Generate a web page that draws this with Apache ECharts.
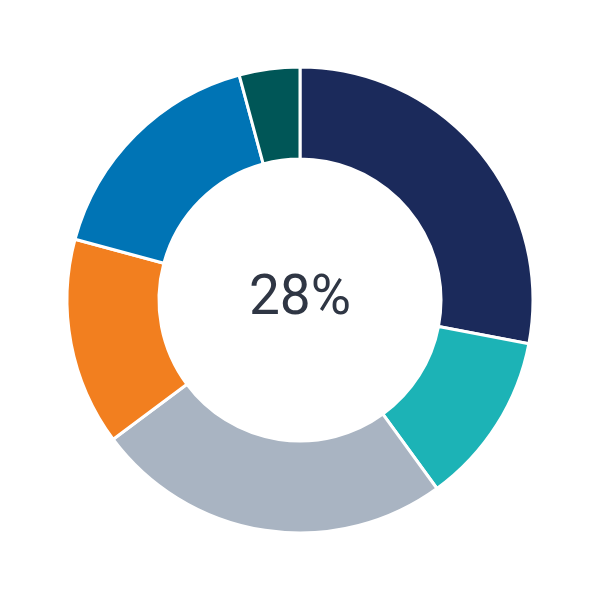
<!DOCTYPE html>
<html><head><meta charset="utf-8">
<script src="https://cdn.jsdelivr.net/npm/echarts@6/dist/echarts.min.js"></script>
<style>html,body{margin:0;padding:0;background:#fff}#c{width:600px;height:600px}</style>
</head><body><div id="c"></div>
<script>
const names = ['A','B','C','D','E','F'];
const values = [28, 12, 24.8, 14.4, 16.6, 4.2];
const colors = ['#1b2a5b','#1cb3b6','#a9b4c2','#f27f1f','#0074b5','#005657'];
const centerLabel = '28%';
const chart = echarts.init(document.getElementById('c'));
chart.setOption({
  animation:false,
  title:{text:centerLabel,left:'center',top:'middle',textStyle:{fontFamily:'Roboto',fontWeight:'normal',fontSize:55,color:'#2f3644'}},
  series:[{
    type:'pie',center:['50%','50%'],radius:[141,233],startAngle:90,clockwise:true,
    label:{show:false},labelLine:{show:false},
    itemStyle:{borderColor:'#fff',borderWidth:3},
    data:names.map((n,i)=>({name:n,value:values[i],itemStyle:{color:colors[i]}}))
  }]
});
</script></body></html>
